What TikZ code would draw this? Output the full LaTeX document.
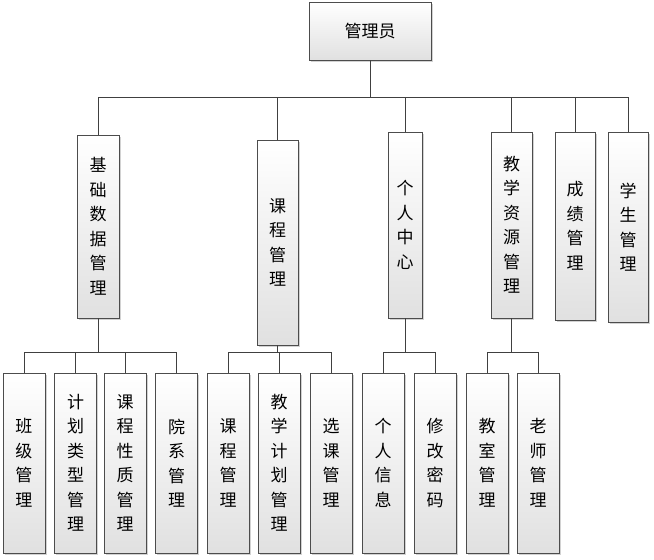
\documentclass[tikz,border=0pt]{standalone}
\usepackage{fontspec}
\setmainfont{Noto Sans CJK SC}
\usetikzlibrary{shadows}
\begin{document}
\begin{tikzpicture}[x=1pt,y=1pt,yscale=-1,xscale=1,
  box/.style={draw=black!70,line width=0.8pt,top color=white,bottom color=black!12,
    drop shadow={shadow xshift=1.5pt,shadow yshift=-1.5pt,fill=black!35},
    inner sep=0pt,align=center,font=\fontsize{17}{24.5}\selectfont},
  link/.style={draw=black!75,line width=1pt}]
  \useasboundingbox (0,0) rectangle (654,560);
  % top
  \node[box,minimum width=122pt,minimum height=58pt] (root) at (370,31) {管理员};
  % second level
  \node[box,minimum width=42pt,minimum height=183pt] (jc) at (98,226.5) {基\\础\\数\\据\\管\\理};
  \node[box,minimum width=41pt,minimum height=205pt] (kc) at (277.5,242.5) {课\\程\\管\\理};
  \node[box,minimum width=34pt,minimum height=186pt] (gr) at (405,225) {个\\人\\中\\心};
  \node[box,minimum width=41pt,minimum height=186pt] (jx) at (511.5,225) {教\\学\\资\\源\\管\\理};
  \node[box,minimum width=40pt,minimum height=188pt] (cj) at (575,226) {成\\绩\\管\\理};
  \node[box,minimum width=40pt,minimum height=190pt] (xs) at (628,227) {学\\生\\管\\理};
  % third level
  \foreach \n/\x/\t in {bj/24/{班\\级\\管\\理},jh/75.5/{计\\划\\类\\型\\管\\理},xz/125/{课\\程\\性\\质\\管\\理},yx/176.5/{院\\系\\管\\理},
    kg/228/{课\\程\\管\\理},jj/279/{教\\学\\计\\划\\管\\理},xk/331/{选\\课\\管\\理},
    xx/383/{个\\人\\信\\息},mm/435/{修\\改\\密\\码},js/487/{教\\室\\管\\理},ls/538/{老\\师\\管\\理}}
    \node[box,minimum width=42pt,minimum height=180pt] (\n) at (\x,463) {\t};
  % links
  \coordinate (m0) at (370,97);
  \draw[link] (root.south) -- (m0);
  \draw[link] (jc.north |- m0) -- (xs.north |- m0);
  \foreach \n in {jc,kc,gr,jx,cj,xs} \draw[link] (\n.north |- m0) -- (\n.north);
  \coordinate (m1) at (0,352);
  \draw[link] (jc.south) -- (jc.south |- m1);
  \draw[link] (bj.north |- m1) -- (yx.north |- m1);
  \draw[link] (kc.south) -- (kc.south |- m1);
  \draw[link] (kg.north |- m1) -- (xk.north |- m1);
  \draw[link] (gr.south) -- (gr.south |- m1);
  \draw[link] (xx.north |- m1) -- (mm.north |- m1);
  \draw[link] (jx.south) -- (jx.south |- m1);
  \draw[link] (js.north |- m1) -- (ls.north |- m1);
  \foreach \n in {bj,jh,xz,yx,kg,jj,xk,xx,mm,js,ls} \draw[link] (\n.north |- m1) -- (\n.north);
\end{tikzpicture}
\end{document}
